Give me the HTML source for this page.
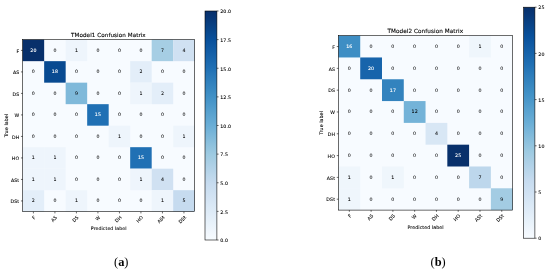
<!DOCTYPE html>
<html><head><meta charset="utf-8"><title>Confusion matrices</title>
<style>
html,body{margin:0;padding:0;background:#fff;}
body{width:550px;height:271px;overflow:hidden;position:relative;font-family:"DejaVu Sans","Liberation Sans",sans-serif;}
svg{position:absolute;left:0;top:0;display:block;}
svg text{font-family:"DejaVu Sans","Liberation Sans",sans-serif;fill:#000;stroke:#000;stroke-width:9px;text-rendering:geometricPrecision;}
svg text.k{stroke-width:4px;}
svg text.t{stroke-width:12px;}
svg text.w{fill:#fff;stroke:#fff;}
.cap{position:absolute;font-family:"Liberation Serif",serif;font-size:12.4px;line-height:16px;color:#000;white-space:nowrap;}
.cap b{font-weight:bold;}
</style></head><body>
<svg width="550" height="271" viewBox="0 0 550 271">
<rect x="22.65" y="39.65" width="172.05" height="172.05" fill="#f7fbff"/>
<rect x="22.65" y="39.65" width="21.51" height="21.51" fill="#08306b"/>
<rect x="65.66" y="39.65" width="21.51" height="21.51" fill="#eef5fc"/>
<rect x="151.69" y="39.65" width="21.51" height="21.51" fill="#a6cee4"/>
<rect x="173.19" y="39.65" width="21.51" height="21.51" fill="#d0e1f2"/>
<rect x="44.16" y="61.16" width="21.51" height="21.51" fill="#084a91"/>
<rect x="130.18" y="61.16" width="21.51" height="21.51" fill="#e3eef9"/>
<rect x="65.66" y="82.66" width="21.51" height="21.51" fill="#7fb9da"/>
<rect x="130.18" y="82.66" width="21.51" height="21.51" fill="#eef5fc"/>
<rect x="151.69" y="82.66" width="21.51" height="21.51" fill="#e3eef9"/>
<rect x="87.17" y="104.17" width="21.51" height="21.51" fill="#2070b4"/>
<rect x="108.68" y="125.68" width="21.51" height="21.51" fill="#eef5fc"/>
<rect x="173.19" y="125.68" width="21.51" height="21.51" fill="#eef5fc"/>
<rect x="22.65" y="147.18" width="21.51" height="21.51" fill="#eef5fc"/>
<rect x="44.16" y="147.18" width="21.51" height="21.51" fill="#eef5fc"/>
<rect x="130.18" y="147.18" width="21.51" height="21.51" fill="#2070b4"/>
<rect x="22.65" y="168.69" width="21.51" height="21.51" fill="#eef5fc"/>
<rect x="44.16" y="168.69" width="21.51" height="21.51" fill="#eef5fc"/>
<rect x="130.18" y="168.69" width="21.51" height="21.51" fill="#eef5fc"/>
<rect x="151.69" y="168.69" width="21.51" height="21.51" fill="#d0e1f2"/>
<rect x="22.65" y="190.19" width="21.51" height="21.51" fill="#e3eef9"/>
<rect x="65.66" y="190.19" width="21.51" height="21.51" fill="#eef5fc"/>
<rect x="151.69" y="190.19" width="21.51" height="21.51" fill="#eef5fc"/>
<rect x="173.19" y="190.19" width="21.51" height="21.51" fill="#c6dbef"/>
<text transform="translate(33.4,51.84) scale(0.01)" x="0" y="0" font-size="480" text-anchor="middle" class="w">20</text>
<text transform="translate(54.91,51.84) scale(0.01)" x="0" y="0" font-size="480" text-anchor="middle" class="k">0</text>
<text transform="translate(76.42,51.84) scale(0.01)" x="0" y="0" font-size="480" text-anchor="middle" class="k">1</text>
<text transform="translate(97.92,51.84) scale(0.01)" x="0" y="0" font-size="480" text-anchor="middle" class="k">0</text>
<text transform="translate(119.43,51.84) scale(0.01)" x="0" y="0" font-size="480" text-anchor="middle" class="k">0</text>
<text transform="translate(140.93,51.84) scale(0.01)" x="0" y="0" font-size="480" text-anchor="middle" class="k">0</text>
<text transform="translate(162.44,51.84) scale(0.01)" x="0" y="0" font-size="480" text-anchor="middle" class="k">7</text>
<text transform="translate(183.95,51.84) scale(0.01)" x="0" y="0" font-size="480" text-anchor="middle" class="k">4</text>
<text transform="translate(33.4,73.35) scale(0.01)" x="0" y="0" font-size="480" text-anchor="middle" class="k">0</text>
<text transform="translate(54.91,73.35) scale(0.01)" x="0" y="0" font-size="480" text-anchor="middle" class="w">18</text>
<text transform="translate(76.42,73.35) scale(0.01)" x="0" y="0" font-size="480" text-anchor="middle" class="k">0</text>
<text transform="translate(97.92,73.35) scale(0.01)" x="0" y="0" font-size="480" text-anchor="middle" class="k">0</text>
<text transform="translate(119.43,73.35) scale(0.01)" x="0" y="0" font-size="480" text-anchor="middle" class="k">0</text>
<text transform="translate(140.93,73.35) scale(0.01)" x="0" y="0" font-size="480" text-anchor="middle" class="k">2</text>
<text transform="translate(162.44,73.35) scale(0.01)" x="0" y="0" font-size="480" text-anchor="middle" class="k">0</text>
<text transform="translate(183.95,73.35) scale(0.01)" x="0" y="0" font-size="480" text-anchor="middle" class="k">0</text>
<text transform="translate(33.4,94.86) scale(0.01)" x="0" y="0" font-size="480" text-anchor="middle" class="k">0</text>
<text transform="translate(54.91,94.86) scale(0.01)" x="0" y="0" font-size="480" text-anchor="middle" class="k">0</text>
<text transform="translate(76.42,94.86) scale(0.01)" x="0" y="0" font-size="480" text-anchor="middle" class="k">9</text>
<text transform="translate(97.92,94.86) scale(0.01)" x="0" y="0" font-size="480" text-anchor="middle" class="k">0</text>
<text transform="translate(119.43,94.86) scale(0.01)" x="0" y="0" font-size="480" text-anchor="middle" class="k">0</text>
<text transform="translate(140.93,94.86) scale(0.01)" x="0" y="0" font-size="480" text-anchor="middle" class="k">1</text>
<text transform="translate(162.44,94.86) scale(0.01)" x="0" y="0" font-size="480" text-anchor="middle" class="k">2</text>
<text transform="translate(183.95,94.86) scale(0.01)" x="0" y="0" font-size="480" text-anchor="middle" class="k">0</text>
<text transform="translate(33.4,116.36) scale(0.01)" x="0" y="0" font-size="480" text-anchor="middle" class="k">0</text>
<text transform="translate(54.91,116.36) scale(0.01)" x="0" y="0" font-size="480" text-anchor="middle" class="k">0</text>
<text transform="translate(76.42,116.36) scale(0.01)" x="0" y="0" font-size="480" text-anchor="middle" class="k">0</text>
<text transform="translate(97.92,116.36) scale(0.01)" x="0" y="0" font-size="480" text-anchor="middle" class="w">15</text>
<text transform="translate(119.43,116.36) scale(0.01)" x="0" y="0" font-size="480" text-anchor="middle" class="k">0</text>
<text transform="translate(140.93,116.36) scale(0.01)" x="0" y="0" font-size="480" text-anchor="middle" class="k">0</text>
<text transform="translate(162.44,116.36) scale(0.01)" x="0" y="0" font-size="480" text-anchor="middle" class="k">0</text>
<text transform="translate(183.95,116.36) scale(0.01)" x="0" y="0" font-size="480" text-anchor="middle" class="k">0</text>
<text transform="translate(33.4,137.87) scale(0.01)" x="0" y="0" font-size="480" text-anchor="middle" class="k">0</text>
<text transform="translate(54.91,137.87) scale(0.01)" x="0" y="0" font-size="480" text-anchor="middle" class="k">0</text>
<text transform="translate(76.42,137.87) scale(0.01)" x="0" y="0" font-size="480" text-anchor="middle" class="k">0</text>
<text transform="translate(97.92,137.87) scale(0.01)" x="0" y="0" font-size="480" text-anchor="middle" class="k">0</text>
<text transform="translate(119.43,137.87) scale(0.01)" x="0" y="0" font-size="480" text-anchor="middle" class="k">1</text>
<text transform="translate(140.93,137.87) scale(0.01)" x="0" y="0" font-size="480" text-anchor="middle" class="k">0</text>
<text transform="translate(162.44,137.87) scale(0.01)" x="0" y="0" font-size="480" text-anchor="middle" class="k">0</text>
<text transform="translate(183.95,137.87) scale(0.01)" x="0" y="0" font-size="480" text-anchor="middle" class="k">1</text>
<text transform="translate(33.4,159.37) scale(0.01)" x="0" y="0" font-size="480" text-anchor="middle" class="k">1</text>
<text transform="translate(54.91,159.37) scale(0.01)" x="0" y="0" font-size="480" text-anchor="middle" class="k">1</text>
<text transform="translate(76.42,159.37) scale(0.01)" x="0" y="0" font-size="480" text-anchor="middle" class="k">0</text>
<text transform="translate(97.92,159.37) scale(0.01)" x="0" y="0" font-size="480" text-anchor="middle" class="k">0</text>
<text transform="translate(119.43,159.37) scale(0.01)" x="0" y="0" font-size="480" text-anchor="middle" class="k">0</text>
<text transform="translate(140.93,159.37) scale(0.01)" x="0" y="0" font-size="480" text-anchor="middle" class="w">15</text>
<text transform="translate(162.44,159.37) scale(0.01)" x="0" y="0" font-size="480" text-anchor="middle" class="k">0</text>
<text transform="translate(183.95,159.37) scale(0.01)" x="0" y="0" font-size="480" text-anchor="middle" class="k">0</text>
<text transform="translate(33.4,180.88) scale(0.01)" x="0" y="0" font-size="480" text-anchor="middle" class="k">1</text>
<text transform="translate(54.91,180.88) scale(0.01)" x="0" y="0" font-size="480" text-anchor="middle" class="k">1</text>
<text transform="translate(76.42,180.88) scale(0.01)" x="0" y="0" font-size="480" text-anchor="middle" class="k">0</text>
<text transform="translate(97.92,180.88) scale(0.01)" x="0" y="0" font-size="480" text-anchor="middle" class="k">0</text>
<text transform="translate(119.43,180.88) scale(0.01)" x="0" y="0" font-size="480" text-anchor="middle" class="k">0</text>
<text transform="translate(140.93,180.88) scale(0.01)" x="0" y="0" font-size="480" text-anchor="middle" class="k">1</text>
<text transform="translate(162.44,180.88) scale(0.01)" x="0" y="0" font-size="480" text-anchor="middle" class="k">4</text>
<text transform="translate(183.95,180.88) scale(0.01)" x="0" y="0" font-size="480" text-anchor="middle" class="k">0</text>
<text transform="translate(33.4,202.39) scale(0.01)" x="0" y="0" font-size="480" text-anchor="middle" class="k">2</text>
<text transform="translate(54.91,202.39) scale(0.01)" x="0" y="0" font-size="480" text-anchor="middle" class="k">0</text>
<text transform="translate(76.42,202.39) scale(0.01)" x="0" y="0" font-size="480" text-anchor="middle" class="k">1</text>
<text transform="translate(97.92,202.39) scale(0.01)" x="0" y="0" font-size="480" text-anchor="middle" class="k">0</text>
<text transform="translate(119.43,202.39) scale(0.01)" x="0" y="0" font-size="480" text-anchor="middle" class="k">0</text>
<text transform="translate(140.93,202.39) scale(0.01)" x="0" y="0" font-size="480" text-anchor="middle" class="k">0</text>
<text transform="translate(162.44,202.39) scale(0.01)" x="0" y="0" font-size="480" text-anchor="middle" class="k">1</text>
<text transform="translate(183.95,202.39) scale(0.01)" x="0" y="0" font-size="480" text-anchor="middle" class="k">5</text>
<rect x="22.65" y="39.65" width="172.05" height="172.05" fill="none" stroke="#000" stroke-width="0.58"/>
<line x1="20.95" y1="50.4" x2="22.65" y2="50.4" stroke="#000" stroke-width="0.58"/>
<text transform="translate(19.25,52.52) scale(0.01)" x="0" y="0" font-size="480" text-anchor="end">F</text>
<line x1="33.4" y1="211.7" x2="33.4" y2="213.4" stroke="#000" stroke-width="0.58"/>
<text transform="translate(33.4,215.1) rotate(-45) scale(0.01)" x="0" y="364.8" font-size="480" text-anchor="end">F</text>
<line x1="20.95" y1="71.91" x2="22.65" y2="71.91" stroke="#000" stroke-width="0.58"/>
<text transform="translate(19.25,74.02) scale(0.01)" x="0" y="0" font-size="480" text-anchor="end">AS</text>
<line x1="54.91" y1="211.7" x2="54.91" y2="213.4" stroke="#000" stroke-width="0.58"/>
<text transform="translate(54.91,215.1) rotate(-45) scale(0.01)" x="0" y="364.8" font-size="480" text-anchor="end">AS</text>
<line x1="20.95" y1="93.42" x2="22.65" y2="93.42" stroke="#000" stroke-width="0.58"/>
<text transform="translate(19.25,95.53) scale(0.01)" x="0" y="0" font-size="480" text-anchor="end">DS</text>
<line x1="76.42" y1="211.7" x2="76.42" y2="213.4" stroke="#000" stroke-width="0.58"/>
<text transform="translate(76.42,215.1) rotate(-45) scale(0.01)" x="0" y="364.8" font-size="480" text-anchor="end">DS</text>
<line x1="20.95" y1="114.92" x2="22.65" y2="114.92" stroke="#000" stroke-width="0.58"/>
<text transform="translate(19.25,117.03) scale(0.01)" x="0" y="0" font-size="480" text-anchor="end">W</text>
<line x1="97.92" y1="211.7" x2="97.92" y2="213.4" stroke="#000" stroke-width="0.58"/>
<text transform="translate(97.92,215.1) rotate(-45) scale(0.01)" x="0" y="364.8" font-size="480" text-anchor="end">W</text>
<line x1="20.95" y1="136.43" x2="22.65" y2="136.43" stroke="#000" stroke-width="0.58"/>
<text transform="translate(19.25,138.54) scale(0.01)" x="0" y="0" font-size="480" text-anchor="end">DH</text>
<line x1="119.43" y1="211.7" x2="119.43" y2="213.4" stroke="#000" stroke-width="0.58"/>
<text transform="translate(119.43,215.1) rotate(-45) scale(0.01)" x="0" y="364.8" font-size="480" text-anchor="end">DH</text>
<line x1="20.95" y1="157.93" x2="22.65" y2="157.93" stroke="#000" stroke-width="0.58"/>
<text transform="translate(19.25,160.05) scale(0.01)" x="0" y="0" font-size="480" text-anchor="end">HO</text>
<line x1="140.93" y1="211.7" x2="140.93" y2="213.4" stroke="#000" stroke-width="0.58"/>
<text transform="translate(140.93,215.1) rotate(-45) scale(0.01)" x="0" y="364.8" font-size="480" text-anchor="end">HO</text>
<line x1="20.95" y1="179.44" x2="22.65" y2="179.44" stroke="#000" stroke-width="0.58"/>
<text transform="translate(19.25,181.55) scale(0.01)" x="0" y="0" font-size="480" text-anchor="end">ASt</text>
<line x1="162.44" y1="211.7" x2="162.44" y2="213.4" stroke="#000" stroke-width="0.58"/>
<text transform="translate(162.44,215.1) rotate(-45) scale(0.01)" x="0" y="364.8" font-size="480" text-anchor="end">ASt</text>
<line x1="20.95" y1="200.95" x2="22.65" y2="200.95" stroke="#000" stroke-width="0.58"/>
<text transform="translate(19.25,203.06) scale(0.01)" x="0" y="0" font-size="480" text-anchor="end">DSt</text>
<line x1="183.95" y1="211.7" x2="183.95" y2="213.4" stroke="#000" stroke-width="0.58"/>
<text transform="translate(183.95,215.1) rotate(-45) scale(0.01)" x="0" y="364.8" font-size="480" text-anchor="end">DSt</text>
<text transform="translate(108.38,37.05) scale(0.01)" x="0" y="0" font-size="575" text-anchor="middle" class="t">TModel1 Confusion Matrix</text>
<text transform="translate(108.68,229.9) scale(0.01)" x="0" y="0" font-size="480" text-anchor="middle">Predicted label</text>
<text transform="translate(8,125.68) rotate(-90) scale(0.01)" x="0" y="0" font-size="480" text-anchor="middle">True label</text>
<defs><linearGradient id="g1" x1="0" y1="0" x2="0" y2="1"><stop offset="0%" stop-color="#08306b"/><stop offset="3.12%" stop-color="#083776"/><stop offset="6.25%" stop-color="#084082"/><stop offset="9.38%" stop-color="#08488e"/><stop offset="12.5%" stop-color="#08509b"/><stop offset="15.62%" stop-color="#0e58a2"/><stop offset="18.75%" stop-color="#1460a8"/><stop offset="21.88%" stop-color="#1a68ae"/><stop offset="25%" stop-color="#2070b4"/><stop offset="28.12%" stop-color="#2979b9"/><stop offset="31.25%" stop-color="#3181bd"/><stop offset="34.38%" stop-color="#3989c1"/><stop offset="37.5%" stop-color="#4191c6"/><stop offset="40.62%" stop-color="#4b98ca"/><stop offset="43.75%" stop-color="#56a0ce"/><stop offset="46.88%" stop-color="#60a7d2"/><stop offset="50%" stop-color="#6aaed6"/><stop offset="53.12%" stop-color="#77b5d9"/><stop offset="56.25%" stop-color="#84bcdb"/><stop offset="59.38%" stop-color="#91c3de"/><stop offset="62.5%" stop-color="#9dcae1"/><stop offset="65.62%" stop-color="#a8cee4"/><stop offset="68.75%" stop-color="#b2d2e8"/><stop offset="71.88%" stop-color="#bcd7eb"/><stop offset="75%" stop-color="#c6dbef"/><stop offset="78.12%" stop-color="#ccdff1"/><stop offset="81.25%" stop-color="#d2e3f3"/><stop offset="84.38%" stop-color="#d8e7f5"/><stop offset="87.5%" stop-color="#deebf7"/><stop offset="90.62%" stop-color="#e4eff9"/><stop offset="93.75%" stop-color="#eaf3fb"/><stop offset="96.88%" stop-color="#f1f7fd"/><stop offset="100%" stop-color="#f7fbff"/></linearGradient></defs>
<rect x="205" y="11" width="11.9" height="229" fill="url(#g1)" stroke="#000" stroke-width="0.58"/>
<line x1="216.9" y1="240" x2="218.6" y2="240" stroke="#000" stroke-width="0.58"/>
<text transform="translate(220.3,242.26) scale(0.01)" x="0" y="0" font-size="480">0.0</text>
<line x1="216.9" y1="211.38" x2="218.6" y2="211.38" stroke="#000" stroke-width="0.58"/>
<text transform="translate(220.3,213.63) scale(0.01)" x="0" y="0" font-size="480">2.5</text>
<line x1="216.9" y1="182.75" x2="218.6" y2="182.75" stroke="#000" stroke-width="0.58"/>
<text transform="translate(220.3,185.01) scale(0.01)" x="0" y="0" font-size="480">5.0</text>
<line x1="216.9" y1="154.12" x2="218.6" y2="154.12" stroke="#000" stroke-width="0.58"/>
<text transform="translate(220.3,156.38) scale(0.01)" x="0" y="0" font-size="480">7.5</text>
<line x1="216.9" y1="125.5" x2="218.6" y2="125.5" stroke="#000" stroke-width="0.58"/>
<text transform="translate(220.3,127.76) scale(0.01)" x="0" y="0" font-size="480">10.0</text>
<line x1="216.9" y1="96.88" x2="218.6" y2="96.88" stroke="#000" stroke-width="0.58"/>
<text transform="translate(220.3,99.13) scale(0.01)" x="0" y="0" font-size="480">12.5</text>
<line x1="216.9" y1="68.25" x2="218.6" y2="68.25" stroke="#000" stroke-width="0.58"/>
<text transform="translate(220.3,70.51) scale(0.01)" x="0" y="0" font-size="480">15.0</text>
<line x1="216.9" y1="39.62" x2="218.6" y2="39.62" stroke="#000" stroke-width="0.58"/>
<text transform="translate(220.3,41.88) scale(0.01)" x="0" y="0" font-size="480">17.5</text>
<line x1="216.9" y1="11" x2="218.6" y2="11" stroke="#000" stroke-width="0.58"/>
<text transform="translate(220.3,13.26) scale(0.01)" x="0" y="0" font-size="480">20.0</text>
<rect x="338.45" y="35.65" width="174.2" height="174.45" fill="#f7fbff"/>
<rect x="338.45" y="35.65" width="21.77" height="21.81" fill="#3e8ec4"/>
<rect x="469.1" y="35.65" width="21.77" height="21.81" fill="#eff6fc"/>
<rect x="360.22" y="57.46" width="21.77" height="21.81" fill="#1764ab"/>
<rect x="382" y="79.26" width="21.77" height="21.81" fill="#3383be"/>
<rect x="403.77" y="101.07" width="21.77" height="21.81" fill="#74b3d8"/>
<rect x="425.55" y="122.88" width="21.77" height="21.81" fill="#d8e7f5"/>
<rect x="447.32" y="144.68" width="21.77" height="21.81" fill="#08306b"/>
<rect x="338.45" y="166.49" width="21.77" height="21.81" fill="#eff6fc"/>
<rect x="382" y="166.49" width="21.77" height="21.81" fill="#eff6fc"/>
<rect x="469.1" y="166.49" width="21.77" height="21.81" fill="#bdd7ec"/>
<rect x="338.45" y="188.29" width="21.77" height="21.81" fill="#eff6fc"/>
<rect x="490.88" y="188.29" width="21.77" height="21.81" fill="#a3cce3"/>
<text transform="translate(349.34,48.01) scale(0.01)" x="0" y="0" font-size="485.8" text-anchor="middle" class="w">16</text>
<text transform="translate(371.11,48.01) scale(0.01)" x="0" y="0" font-size="485.8" text-anchor="middle" class="k">0</text>
<text transform="translate(392.89,48.01) scale(0.01)" x="0" y="0" font-size="485.8" text-anchor="middle" class="k">0</text>
<text transform="translate(414.66,48.01) scale(0.01)" x="0" y="0" font-size="485.8" text-anchor="middle" class="k">0</text>
<text transform="translate(436.44,48.01) scale(0.01)" x="0" y="0" font-size="485.8" text-anchor="middle" class="k">0</text>
<text transform="translate(458.21,48.01) scale(0.01)" x="0" y="0" font-size="485.8" text-anchor="middle" class="k">0</text>
<text transform="translate(479.99,48.01) scale(0.01)" x="0" y="0" font-size="485.8" text-anchor="middle" class="k">1</text>
<text transform="translate(501.76,48.01) scale(0.01)" x="0" y="0" font-size="485.8" text-anchor="middle" class="k">0</text>
<text transform="translate(349.34,69.82) scale(0.01)" x="0" y="0" font-size="485.8" text-anchor="middle" class="k">0</text>
<text transform="translate(371.11,69.82) scale(0.01)" x="0" y="0" font-size="485.8" text-anchor="middle" class="w">20</text>
<text transform="translate(392.89,69.82) scale(0.01)" x="0" y="0" font-size="485.8" text-anchor="middle" class="k">0</text>
<text transform="translate(414.66,69.82) scale(0.01)" x="0" y="0" font-size="485.8" text-anchor="middle" class="k">0</text>
<text transform="translate(436.44,69.82) scale(0.01)" x="0" y="0" font-size="485.8" text-anchor="middle" class="k">0</text>
<text transform="translate(458.21,69.82) scale(0.01)" x="0" y="0" font-size="485.8" text-anchor="middle" class="k">0</text>
<text transform="translate(479.99,69.82) scale(0.01)" x="0" y="0" font-size="485.8" text-anchor="middle" class="k">0</text>
<text transform="translate(501.76,69.82) scale(0.01)" x="0" y="0" font-size="485.8" text-anchor="middle" class="k">0</text>
<text transform="translate(349.34,91.62) scale(0.01)" x="0" y="0" font-size="485.8" text-anchor="middle" class="k">0</text>
<text transform="translate(371.11,91.62) scale(0.01)" x="0" y="0" font-size="485.8" text-anchor="middle" class="k">0</text>
<text transform="translate(392.89,91.62) scale(0.01)" x="0" y="0" font-size="485.8" text-anchor="middle" class="w">17</text>
<text transform="translate(414.66,91.62) scale(0.01)" x="0" y="0" font-size="485.8" text-anchor="middle" class="k">0</text>
<text transform="translate(436.44,91.62) scale(0.01)" x="0" y="0" font-size="485.8" text-anchor="middle" class="k">0</text>
<text transform="translate(458.21,91.62) scale(0.01)" x="0" y="0" font-size="485.8" text-anchor="middle" class="k">0</text>
<text transform="translate(479.99,91.62) scale(0.01)" x="0" y="0" font-size="485.8" text-anchor="middle" class="k">0</text>
<text transform="translate(501.76,91.62) scale(0.01)" x="0" y="0" font-size="485.8" text-anchor="middle" class="k">0</text>
<text transform="translate(349.34,113.43) scale(0.01)" x="0" y="0" font-size="485.8" text-anchor="middle" class="k">0</text>
<text transform="translate(371.11,113.43) scale(0.01)" x="0" y="0" font-size="485.8" text-anchor="middle" class="k">0</text>
<text transform="translate(392.89,113.43) scale(0.01)" x="0" y="0" font-size="485.8" text-anchor="middle" class="k">0</text>
<text transform="translate(414.66,113.43) scale(0.01)" x="0" y="0" font-size="485.8" text-anchor="middle" class="k">12</text>
<text transform="translate(436.44,113.43) scale(0.01)" x="0" y="0" font-size="485.8" text-anchor="middle" class="k">0</text>
<text transform="translate(458.21,113.43) scale(0.01)" x="0" y="0" font-size="485.8" text-anchor="middle" class="k">0</text>
<text transform="translate(479.99,113.43) scale(0.01)" x="0" y="0" font-size="485.8" text-anchor="middle" class="k">0</text>
<text transform="translate(501.76,113.43) scale(0.01)" x="0" y="0" font-size="485.8" text-anchor="middle" class="k">0</text>
<text transform="translate(349.34,135.24) scale(0.01)" x="0" y="0" font-size="485.8" text-anchor="middle" class="k">0</text>
<text transform="translate(371.11,135.24) scale(0.01)" x="0" y="0" font-size="485.8" text-anchor="middle" class="k">0</text>
<text transform="translate(392.89,135.24) scale(0.01)" x="0" y="0" font-size="485.8" text-anchor="middle" class="k">0</text>
<text transform="translate(414.66,135.24) scale(0.01)" x="0" y="0" font-size="485.8" text-anchor="middle" class="k">0</text>
<text transform="translate(436.44,135.24) scale(0.01)" x="0" y="0" font-size="485.8" text-anchor="middle" class="k">4</text>
<text transform="translate(458.21,135.24) scale(0.01)" x="0" y="0" font-size="485.8" text-anchor="middle" class="k">0</text>
<text transform="translate(479.99,135.24) scale(0.01)" x="0" y="0" font-size="485.8" text-anchor="middle" class="k">0</text>
<text transform="translate(501.76,135.24) scale(0.01)" x="0" y="0" font-size="485.8" text-anchor="middle" class="k">0</text>
<text transform="translate(349.34,157.04) scale(0.01)" x="0" y="0" font-size="485.8" text-anchor="middle" class="k">0</text>
<text transform="translate(371.11,157.04) scale(0.01)" x="0" y="0" font-size="485.8" text-anchor="middle" class="k">0</text>
<text transform="translate(392.89,157.04) scale(0.01)" x="0" y="0" font-size="485.8" text-anchor="middle" class="k">0</text>
<text transform="translate(414.66,157.04) scale(0.01)" x="0" y="0" font-size="485.8" text-anchor="middle" class="k">0</text>
<text transform="translate(436.44,157.04) scale(0.01)" x="0" y="0" font-size="485.8" text-anchor="middle" class="k">0</text>
<text transform="translate(458.21,157.04) scale(0.01)" x="0" y="0" font-size="485.8" text-anchor="middle" class="w">25</text>
<text transform="translate(479.99,157.04) scale(0.01)" x="0" y="0" font-size="485.8" text-anchor="middle" class="k">0</text>
<text transform="translate(501.76,157.04) scale(0.01)" x="0" y="0" font-size="485.8" text-anchor="middle" class="k">0</text>
<text transform="translate(349.34,178.85) scale(0.01)" x="0" y="0" font-size="485.8" text-anchor="middle" class="k">1</text>
<text transform="translate(371.11,178.85) scale(0.01)" x="0" y="0" font-size="485.8" text-anchor="middle" class="k">0</text>
<text transform="translate(392.89,178.85) scale(0.01)" x="0" y="0" font-size="485.8" text-anchor="middle" class="k">1</text>
<text transform="translate(414.66,178.85) scale(0.01)" x="0" y="0" font-size="485.8" text-anchor="middle" class="k">0</text>
<text transform="translate(436.44,178.85) scale(0.01)" x="0" y="0" font-size="485.8" text-anchor="middle" class="k">0</text>
<text transform="translate(458.21,178.85) scale(0.01)" x="0" y="0" font-size="485.8" text-anchor="middle" class="k">0</text>
<text transform="translate(479.99,178.85) scale(0.01)" x="0" y="0" font-size="485.8" text-anchor="middle" class="k">7</text>
<text transform="translate(501.76,178.85) scale(0.01)" x="0" y="0" font-size="485.8" text-anchor="middle" class="k">0</text>
<text transform="translate(349.34,200.65) scale(0.01)" x="0" y="0" font-size="485.8" text-anchor="middle" class="k">1</text>
<text transform="translate(371.11,200.65) scale(0.01)" x="0" y="0" font-size="485.8" text-anchor="middle" class="k">0</text>
<text transform="translate(392.89,200.65) scale(0.01)" x="0" y="0" font-size="485.8" text-anchor="middle" class="k">0</text>
<text transform="translate(414.66,200.65) scale(0.01)" x="0" y="0" font-size="485.8" text-anchor="middle" class="k">0</text>
<text transform="translate(436.44,200.65) scale(0.01)" x="0" y="0" font-size="485.8" text-anchor="middle" class="k">0</text>
<text transform="translate(458.21,200.65) scale(0.01)" x="0" y="0" font-size="485.8" text-anchor="middle" class="k">0</text>
<text transform="translate(479.99,200.65) scale(0.01)" x="0" y="0" font-size="485.8" text-anchor="middle" class="k">0</text>
<text transform="translate(501.76,200.65) scale(0.01)" x="0" y="0" font-size="485.8" text-anchor="middle" class="k">9</text>
<rect x="338.45" y="35.65" width="174.2" height="174.45" fill="none" stroke="#000" stroke-width="0.58"/>
<line x1="336.75" y1="46.55" x2="338.45" y2="46.55" stroke="#000" stroke-width="0.58"/>
<text transform="translate(335.05,48.69) scale(0.01)" x="0" y="0" font-size="485.8" text-anchor="end">F</text>
<line x1="349.34" y1="210.1" x2="349.34" y2="211.8" stroke="#000" stroke-width="0.58"/>
<text transform="translate(349.34,213.5) rotate(-45) scale(0.01)" x="0" y="369.21" font-size="485.8" text-anchor="end">F</text>
<line x1="336.75" y1="68.36" x2="338.45" y2="68.36" stroke="#000" stroke-width="0.58"/>
<text transform="translate(335.05,70.5) scale(0.01)" x="0" y="0" font-size="485.8" text-anchor="end">AS</text>
<line x1="371.11" y1="210.1" x2="371.11" y2="211.8" stroke="#000" stroke-width="0.58"/>
<text transform="translate(371.11,213.5) rotate(-45) scale(0.01)" x="0" y="369.21" font-size="485.8" text-anchor="end">AS</text>
<line x1="336.75" y1="90.17" x2="338.45" y2="90.17" stroke="#000" stroke-width="0.58"/>
<text transform="translate(335.05,92.3) scale(0.01)" x="0" y="0" font-size="485.8" text-anchor="end">DS</text>
<line x1="392.89" y1="210.1" x2="392.89" y2="211.8" stroke="#000" stroke-width="0.58"/>
<text transform="translate(392.89,213.5) rotate(-45) scale(0.01)" x="0" y="369.21" font-size="485.8" text-anchor="end">DS</text>
<line x1="336.75" y1="111.97" x2="338.45" y2="111.97" stroke="#000" stroke-width="0.58"/>
<text transform="translate(335.05,114.11) scale(0.01)" x="0" y="0" font-size="485.8" text-anchor="end">W</text>
<line x1="414.66" y1="210.1" x2="414.66" y2="211.8" stroke="#000" stroke-width="0.58"/>
<text transform="translate(414.66,213.5) rotate(-45) scale(0.01)" x="0" y="369.21" font-size="485.8" text-anchor="end">W</text>
<line x1="336.75" y1="133.78" x2="338.45" y2="133.78" stroke="#000" stroke-width="0.58"/>
<text transform="translate(335.05,135.92) scale(0.01)" x="0" y="0" font-size="485.8" text-anchor="end">DH</text>
<line x1="436.44" y1="210.1" x2="436.44" y2="211.8" stroke="#000" stroke-width="0.58"/>
<text transform="translate(436.44,213.5) rotate(-45) scale(0.01)" x="0" y="369.21" font-size="485.8" text-anchor="end">DH</text>
<line x1="336.75" y1="155.58" x2="338.45" y2="155.58" stroke="#000" stroke-width="0.58"/>
<text transform="translate(335.05,157.72) scale(0.01)" x="0" y="0" font-size="485.8" text-anchor="end">HO</text>
<line x1="458.21" y1="210.1" x2="458.21" y2="211.8" stroke="#000" stroke-width="0.58"/>
<text transform="translate(458.21,213.5) rotate(-45) scale(0.01)" x="0" y="369.21" font-size="485.8" text-anchor="end">HO</text>
<line x1="336.75" y1="177.39" x2="338.45" y2="177.39" stroke="#000" stroke-width="0.58"/>
<text transform="translate(335.05,179.53) scale(0.01)" x="0" y="0" font-size="485.8" text-anchor="end">ASt</text>
<line x1="479.99" y1="210.1" x2="479.99" y2="211.8" stroke="#000" stroke-width="0.58"/>
<text transform="translate(479.99,213.5) rotate(-45) scale(0.01)" x="0" y="369.21" font-size="485.8" text-anchor="end">ASt</text>
<line x1="336.75" y1="199.2" x2="338.45" y2="199.2" stroke="#000" stroke-width="0.58"/>
<text transform="translate(335.05,201.33) scale(0.01)" x="0" y="0" font-size="485.8" text-anchor="end">DSt</text>
<line x1="501.76" y1="210.1" x2="501.76" y2="211.8" stroke="#000" stroke-width="0.58"/>
<text transform="translate(501.76,213.5) rotate(-45) scale(0.01)" x="0" y="369.21" font-size="485.8" text-anchor="end">DSt</text>
<text transform="translate(425.25,32.75) scale(0.01)" x="0" y="0" font-size="581.9" text-anchor="middle" class="t">TModel2 Confusion Matrix</text>
<text transform="translate(425.55,229) scale(0.01)" x="0" y="0" font-size="485.8" text-anchor="middle">Predicted label</text>
<text transform="translate(323,122.88) rotate(-90) scale(0.01)" x="0" y="0" font-size="485.8" text-anchor="middle">True label</text>
<defs><linearGradient id="g2" x1="0" y1="0" x2="0" y2="1"><stop offset="0%" stop-color="#08306b"/><stop offset="3.12%" stop-color="#083776"/><stop offset="6.25%" stop-color="#084082"/><stop offset="9.38%" stop-color="#08488e"/><stop offset="12.5%" stop-color="#08509b"/><stop offset="15.62%" stop-color="#0e58a2"/><stop offset="18.75%" stop-color="#1460a8"/><stop offset="21.88%" stop-color="#1a68ae"/><stop offset="25%" stop-color="#2070b4"/><stop offset="28.12%" stop-color="#2979b9"/><stop offset="31.25%" stop-color="#3181bd"/><stop offset="34.38%" stop-color="#3989c1"/><stop offset="37.5%" stop-color="#4191c6"/><stop offset="40.62%" stop-color="#4b98ca"/><stop offset="43.75%" stop-color="#56a0ce"/><stop offset="46.88%" stop-color="#60a7d2"/><stop offset="50%" stop-color="#6aaed6"/><stop offset="53.12%" stop-color="#77b5d9"/><stop offset="56.25%" stop-color="#84bcdb"/><stop offset="59.38%" stop-color="#91c3de"/><stop offset="62.5%" stop-color="#9dcae1"/><stop offset="65.62%" stop-color="#a8cee4"/><stop offset="68.75%" stop-color="#b2d2e8"/><stop offset="71.88%" stop-color="#bcd7eb"/><stop offset="75%" stop-color="#c6dbef"/><stop offset="78.12%" stop-color="#ccdff1"/><stop offset="81.25%" stop-color="#d2e3f3"/><stop offset="84.38%" stop-color="#d8e7f5"/><stop offset="87.5%" stop-color="#deebf7"/><stop offset="90.62%" stop-color="#e4eff9"/><stop offset="93.75%" stop-color="#eaf3fb"/><stop offset="96.88%" stop-color="#f1f7fd"/><stop offset="100%" stop-color="#f7fbff"/></linearGradient></defs>
<rect x="523.6" y="7.2" width="11.3" height="231" fill="url(#g2)" stroke="#000" stroke-width="0.58"/>
<line x1="534.9" y1="238.2" x2="536.6" y2="238.2" stroke="#000" stroke-width="0.58"/>
<text transform="translate(538.3,240.48) scale(0.01)" x="0" y="0" font-size="485.8">0</text>
<line x1="534.9" y1="192" x2="536.6" y2="192" stroke="#000" stroke-width="0.58"/>
<text transform="translate(538.3,194.28) scale(0.01)" x="0" y="0" font-size="485.8">5</text>
<line x1="534.9" y1="145.8" x2="536.6" y2="145.8" stroke="#000" stroke-width="0.58"/>
<text transform="translate(538.3,148.08) scale(0.01)" x="0" y="0" font-size="485.8">10</text>
<line x1="534.9" y1="99.6" x2="536.6" y2="99.6" stroke="#000" stroke-width="0.58"/>
<text transform="translate(538.3,101.88) scale(0.01)" x="0" y="0" font-size="485.8">15</text>
<line x1="534.9" y1="53.4" x2="536.6" y2="53.4" stroke="#000" stroke-width="0.58"/>
<text transform="translate(538.3,55.68) scale(0.01)" x="0" y="0" font-size="485.8">20</text>
<line x1="534.9" y1="7.2" x2="536.6" y2="7.2" stroke="#000" stroke-width="0.58"/>
<text transform="translate(538.3,9.48) scale(0.01)" x="0" y="0" font-size="485.8">25</text>
</svg>
<div class="cap" style="left:114px;top:253.9px;">(<b>a</b>)</div>
<div class="cap" style="left:430.5px;top:253.9px;">(<b>b</b>)</div>
</body></html>
